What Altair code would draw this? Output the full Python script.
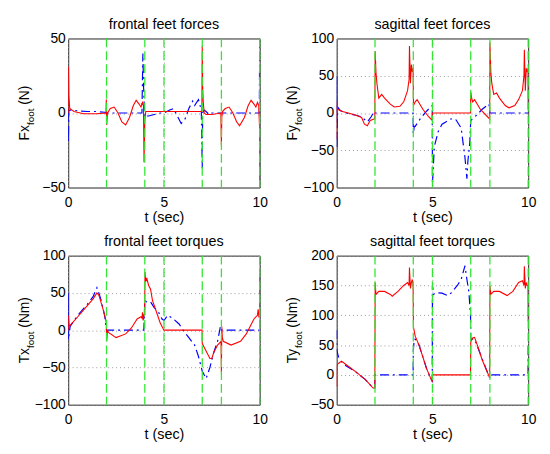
import altair as alt
import pandas as pd

# ---------------- data ----------------
switch_t = [2, 4, 5, 7, 8, 10]

# frontal feet forces (Fx)
fx_red_t = [0, 0.01, 0.03, 0.08, 0.3, 0.8, 1.5, 1.97, 1.99, 2.01, 2.05, 2.2, 2.4, 2.6, 2.8, 3.0, 3.2, 3.4, 3.55,
            3.7, 3.8, 3.88, 3.93, 3.96, 4.0, 4.05, 4.2, 5.0, 6.0, 6.98, 7.0, 7.02, 7.05, 7.1, 7.2, 7.5, 7.97,
            8.0, 8.02, 8.06, 8.2, 8.4, 8.6, 8.8, 8.95, 9.2, 9.4, 9.55, 9.7, 9.8, 9.88, 9.95, 9.99, 10.0]
fx_red_v = [0, 31, 12, 3, 1, -0.5, -0.5, 0, 9, -8, 0, 3, 4, 0, -6, -8, -3, 5, 8.5,
            6, 4, 7, 5, -33, -5, 1, 1, 1, 1, 1, 45, 18, 8, 0, -1, -1, 0,
            -22, -3, 1, 3, 4, 0, -6, -8.5, -3, 5, 8.5, 6, 4, 7, 5, -9, -50]
fx_blue_t = [0, 0.01, 0.03, 0.1, 0.5, 1.0, 1.5, 1.9, 2.0, 3.0, 3.85, 3.9, 3.93, 3.97, 4.0, 4.05, 4.2, 4.5,
             4.8, 5.0, 5.3, 5.5, 5.7, 5.9, 6.1, 6.3, 6.5, 6.6, 6.8, 6.95, 7.0, 7.02, 7.1, 7.2, 7.35, 7.5,
             8.0, 9.0, 9.98, 10.0]
fx_blue_v = [0, -20, 2, 2, 1.5, 1, 1, 0.5, 0, 0, 0, 40, 20, 5, -3, -2, -2, -1,
             0, 0, 2, 3, -2, -7, -4, 3, 8, 5, 9, 2, -37, 0, 2, 1, -1, 0,
             0, 0, 0, 50]

# sagittal feet forces (Fy)
fy_red_t = [0, 0.01, 0.05, 0.3, 0.6, 1.0, 1.3, 1.45, 1.6, 1.75, 1.95, 1.99, 2.01, 2.05, 2.1, 2.2, 2.35, 2.5,
            2.8, 3.0, 3.3, 3.5, 3.7, 3.78, 3.8, 3.85, 3.9, 3.95, 3.99, 4.01, 4.1, 4.2, 4.5, 4.8, 4.99, 5.0,
            6.0, 6.99, 7.0, 7.05, 7.1, 7.2, 7.5, 7.8, 7.99, 8.0, 8.05, 8.1, 8.2, 8.35, 8.5, 8.8, 9.0, 9.3,
            9.5, 9.7, 9.78, 9.8, 9.85, 9.9, 9.95, 9.99, 10.0]
fy_red_v = [-35, 15, 5, 2, 0, -3, -6, -15, -17, -10, -8, -8, 83, 55, 40, 20, 25, 20,
            12, 8, 9, 15, 30, 45, 90, 40, 65, 55, 60, 10, 15, 18, 5, -5, -10, 0,
            0, 0, 28, 20, 15, 18, 5, -3, -8, 95, 55, 40, 25, 27, 20, 10, 7, 10,
            18, 30, 50, 85, 30, 60, 55, 60, 5]
fy_blue_t = [0, 0.005, 0.01, 0.05, 0.2, 0.5, 1.0, 1.3, 1.5, 1.6, 1.8, 1.95, 2.0, 3.0, 3.99, 4.0, 4.05, 4.1,
             4.3, 4.6, 4.9, 4.99, 5.0, 5.05, 5.1, 5.3, 5.5, 5.7, 5.9, 6.2, 6.5, 6.6, 6.7, 6.8, 6.85, 6.95,
             7.0, 7.3, 7.6, 7.95, 8.0, 9.0, 10.0]
fy_blue_v = [0, 50, -48, 8, 3, 0, -3, -5, -10, -12, -5, 2, 0, 0, 0, -28, -18, -18,
             -10, 0, 8, 10, -95, -70, -45, -25, -15, -12, -8, -8, -20, -40, -60, -88, -65, -40,
             -10, -3, 5, 12, 0, 0, 0]

# frontal feet torques (Tx)
tx_red_t = [0, 0.01, 0.05, 0.5, 1.0, 1.3, 1.5, 1.6, 1.8, 1.95, 1.99, 2.01, 2.05, 2.1, 2.5, 3.0, 3.3, 3.6,
            3.8, 3.85, 3.88, 3.92, 3.96, 3.99, 4.01, 4.05, 4.1, 4.2, 4.3, 4.4, 4.6, 4.8, 5.0, 6.0, 6.99,
            7.0, 7.2, 7.4, 7.5, 7.6, 7.8, 7.98, 8.0, 8.02, 8.05, 8.1, 8.5, 9.0, 9.3, 9.5, 9.7, 9.88,
            9.92, 9.96, 9.99, 10.0]
tx_red_v = [0, 20, 5, 18, 33, 42, 50, 47, 30, 15, 10, -15, 0, -3, -10, -5, 3, 15,
            18, 16, 24, 13, 22, 20, 78, 65, 70, 60, 55, 40, 25, 10, 0, 0, 0,
            -18, -28, -38, -38, -30, -20, -15, -57, 5, -10, -15, -20, -15, -5, 5, 15, 20,
            28, 17, 22, 75]
tx_blue_t = [0, 0.005, 0.01, 0.1, 0.5, 1.0, 1.3, 1.5, 1.7, 1.9, 2.0, 3.0, 3.95, 4.0, 4.1, 4.3, 4.5, 4.7,
             4.9, 5.0, 5.2, 5.5, 5.8, 6.0, 6.3, 6.6, 6.8, 7.0, 7.2, 7.4, 7.6, 7.8, 7.95, 8.0, 9.0, 10.0]
tx_blue_v = [0, 50, -13, 5, 20, 35, 45, 57, 42, 20, 0, 0, 0, 40, 38, 38, 30, 25,
             15, 13, 20, 15, 8, 0, -10, -20, -35, -55, -65, -50, -30, -15, 5, 0, 0, 0]

# sagittal feet torques (Ty)
ty_red_t = [0, 0.01, 0.05, 0.2, 0.3, 0.5, 1.0, 1.5, 1.9, 1.99, 2.01, 2.05, 2.2, 2.5, 2.8, 2.9, 3.2, 3.5,
            3.7, 3.78, 3.8, 3.85, 3.9, 3.95, 3.99, 4.01, 4.1, 4.3, 4.5, 4.7, 4.9, 4.99, 5.0, 6.0, 6.99,
            7.0, 7.1, 7.2, 7.4, 7.6, 7.8, 7.99, 8.0, 8.05, 8.2, 8.5, 8.9, 9.2, 9.5, 9.7, 9.78, 9.8,
            9.85, 9.9, 9.95, 9.99, 10.0]
ty_red_v = [-20, 15, 18, 22, 22, 17, 5, -8, -22, -22, 155, 135, 140, 140, 135, 132, 140, 150,
            155, 150, 180, 145, 155, 160, 150, 80, 65, 50, 30, 10, -5, -12, 0, 0, 0,
            55, 62, 63, 45, 25, 10, -5, 150, 135, 140, 140, 133, 140, 155, 158, 150, 182,
            145, 155, 150, 150, 90]
ty_blue_t = [0, 0.01, 0.05, 0.1, 0.3, 0.5, 1.0, 1.5, 1.9, 1.99, 2.0, 3.0, 3.99, 4.0, 4.05, 4.1, 4.3, 4.5,
             4.7, 4.9, 4.99, 5.0, 5.05, 5.2, 5.5, 5.8, 6.0, 6.3, 6.5, 6.7, 6.8, 6.9, 6.99, 7.0, 7.2,
             7.5, 7.8, 7.99, 8.0, 9.0, 9.99, 10.0]
ty_blue_v = [75, 42, 35, 30, 20, 15, 5, -8, -22, -22, 0, 0, 0, 40, 60, 60, 50, 30,
             10, -5, -10, 150, 135, 138, 137, 133, 138, 150, 160, 183, 160, 140, 100, 60, 60,
             35, 10, -5, 0, 0, 0, 50]

# ---------------- styling ----------------
FONT = "Liberation Sans"
W, H = 194, 151
MAIN, SUB = 14, 10
ARIAL = {"F": .611, "T": .611, "x": .5, "y": .5, "f": .278, "o": .556, "t": .278,
         " ": .278, "(": .333, ")": .333, "N": .722, "m": .833}


def tw(s, size):
    return sum(ARIAL.get(c, .556) for c in s) * size


def one():
    return pd.DataFrame({"a": [0]})


def ytitle(main, unit):
    rest = "(" + unit + ")"
    w1, w2, ws, w3 = tw(main, MAIN), tw("foot", SUB), tw(" ", MAIN), tw(rest, MAIN)
    start = H / 2 + (w1 + w2 + ws + w3) / 2
    xb = -40
    parts = [(main, MAIN, xb, start), ("foot", SUB, xb + 5, start - w1),
             (rest, MAIN, xb, start - w1 - w2 - ws)]
    layers = []
    for txt, size, xx, yy in parts:
        layers.append(
            alt.Chart(one()).mark_text(text=txt, font=FONT, fontSize=size, angle=270, align="left",
                                       baseline="alphabetic", color="black")
            .encode(x=alt.value(xx), y=alt.value(yy))
        )
    return layers


def panel(title, red_t, red_v, blue_t, blue_v, ydom, yticks, main, unit):
    red = pd.DataFrame({"t": red_t, "v": red_v, "i": range(len(red_t))})
    blue = pd.DataFrame({"t": blue_t, "v": blue_v, "i": range(len(blue_t))})
    xs = alt.Scale(domain=[0, 10], nice=False, zero=False)
    ys = alt.Scale(domain=ydom, nice=False, zero=False)
    xax = alt.Axis(values=[0, 5, 10], title="t (sec)", format="d")
    yax = alt.Axis(values=yticks, title=None, format="d")
    X = alt.X("t:Q", scale=xs, axis=xax)
    Y = alt.Y("v:Q", scale=ys, axis=yax)
    b = alt.Chart(blue).mark_line(color="#0000ff", strokeWidth=1.2, strokeDash=[9, 4, 2, 4], clip=True).encode(
        x=X, y=Y, order="i:Q")
    r = alt.Chart(red).mark_line(color="#ff0000", strokeWidth=1.1, clip=True).encode(
        x=X, y=Y, order="i:Q")
    g = alt.Chart(pd.DataFrame({"t": switch_t})).mark_rule(color="#33e633", strokeWidth=1.3,
                                                           strokeDash=[9, 4]).encode(x=X)
    ttl = alt.Chart(one()).mark_text(text=title, font=FONT, fontSize=14.5, align="center",
                                     baseline="alphabetic", color="black").encode(
        x=alt.value(W / 2), y=alt.value(-10))
    return alt.layer(b, r, g, ttl, *ytitle(main, unit)).properties(width=W, height=H)


p1 = panel("frontal feet forces", fx_red_t, fx_red_v, fx_blue_t, fx_blue_v, [-50, 50], [-50, 0, 50], "Fx", "N")
p2 = panel("sagittal feet forces", fy_red_t, fy_red_v, fy_blue_t, fy_blue_v, [-100, 100], [-100, -50, 0, 50, 100], "Fy", "N")
p3 = panel("frontal feet torques", tx_red_t, tx_red_v, tx_blue_t, tx_blue_v, [-100, 100], [-100, -50, 0, 50, 100], "Tx", "Nm")
p4 = panel("sagittal feet torques", ty_red_t, ty_red_v, ty_blue_t, ty_blue_v, [-50, 200], [-50, 0, 50, 100, 150, 200], "Ty", "Nm")

chart = alt.concat(p1, p2, p3, p4, columns=2, spacing={"row": 69, "column": 78},
                   bounds="flush").configure_view(stroke="#222222", strokeWidth=1).configure_axis(
    grid=True, gridDash=[1, 3], gridColor="#999999", gridWidth=1, ticks=False, domain=False,
    labelFlush=False, labelFont=FONT, labelFontSize=14, labelColor="black", labelOverlap=False,
    titleFont=FONT, titleFontSize=14.5, titleFontWeight="normal", titleColor="black"
).configure_axisX(labelPadding=8, titlePadding=1).configure_axisY(labelPadding=3).properties(
    background="white", padding={"left": 9, "top": 5, "right": 5, "bottom": 5})

chart.save("out.html", embed_options={"renderer": "svg", "actions": False})
